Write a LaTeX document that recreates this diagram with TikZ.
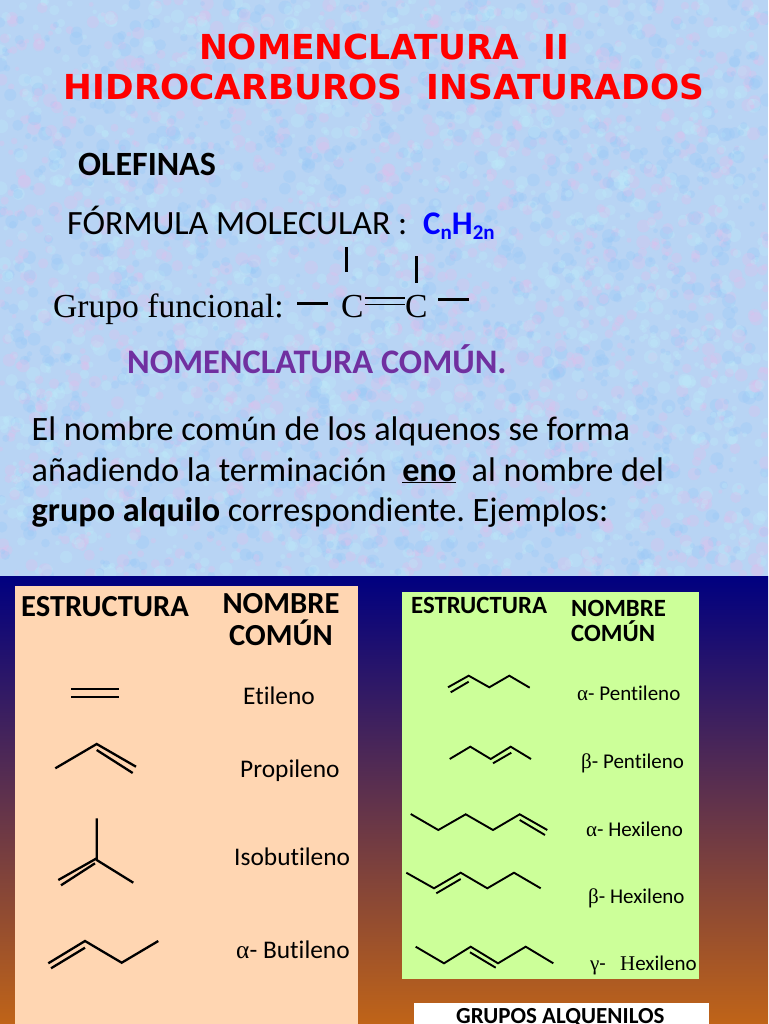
\documentclass[tikz,border=0pt]{standalone}
\usepackage{fontspec}
\setmainfont[Ligatures = NoCommon]{Carlito}
\newfontfamily\titulofont{DejaVu Sans}
\newfontfamily\griegofont{Liberation Serif}
\newcommand{\letra}[1]{\fontsize{#1}{#1}\selectfont}
\definecolor{rojotitulo}{RGB}{255,0,0}
\definecolor{azulformula}{RGB}{0,0,255}
\definecolor{moradotitulo}{RGB}{112,48,160}
\definecolor{fondoazul}{RGB}{184,212,244}
\definecolor{manchaazul}{RGB}{150,200,248}
\definecolor{mancharosa}{RGB}{226,190,236}
\definecolor{manchaclara}{RGB}{190,236,250}
\definecolor{durazno}{RGB}{255,214,178}
\definecolor{verdeclaro}{RGB}{204,255,153}
\tikzset{
  titulo/.style = {text = rojotitulo, font = \titulofont\bfseries\letra{34.4}},
  texto/.style = {anchor = base west, inner sep = 0pt},
  cabecera/.style = {inner sep = 0pt, font = \bfseries\letra{30.6}},
  cabeceraverde/.style = {inner sep = 0pt, font = \bfseries\letra{24.8}},
  nombre/.style = {inner sep = 0pt, anchor = base west, font = \letra{25.4}},
  nombreverde/.style = {inner sep = 0pt, anchor = base west, font = \letra{21}},
  enlace/.style = {black, line width = 2.3pt},
  enlaceverde/.style = {black, line width = 1.9pt},
  raya/.style = {black, line width = 3pt}
}
\begin{document}
\begin{tikzpicture} [x = 1pt, y = -1pt]
\clip (0, 0) rectangle (768, 1024);
\fill[fondoazul] (0, 0) rectangle (768, 576);
\begin{scope}
\clip (0, 0) rectangle (768, 576);
\pgfmathsetseed{27}
\foreach \i in {1, ..., 1400} {
  \fill[manchaazul, opacity = 0.3] ({rnd*768}, {rnd*576}) circle [radius = {2 + rnd*5}];
  \fill[mancharosa, opacity = 0.3] ({rnd*768}, {rnd*576}) circle [radius = {2 + rnd*5}];
  \fill[manchaclara, opacity = 0.3] ({rnd*768}, {rnd*576}) circle [radius = {2 + rnd*5}];
}
\end{scope}
\shade[top color = {rgb,255:red,0;green,0;blue,128}, bottom color = {rgb,255:red,192;green,100;blue,24}] (0, 576) rectangle (768, 1024);
\fill[durazno] (15, 586) rectangle (358, 1024);
\fill[verdeclaro] (402, 592) rectangle (699, 979);
\fill[white] (414, 1003) rectangle (709, 1024);

\node[titulo] (titulo1) at (384, 47){NOMENCLATURA\ \ II};
\node[titulo] (titulo2) at (384, 87){HIDROCARBUROS\ \ INSATURADOS};
\node[texto, font = \bfseries\letra{34}] (olefinas) at (78, 176){OLEFINAS};
\node[texto, font = \letra{34}] (formula) at (67, 235){FÓRMULA MOLECULAR :};
\node[texto, text = azulformula, font = \bfseries\letra{33}] (cnh) at (423, 235){C\raisebox{-5pt}{\letra{21}n}H\raisebox{-5pt}{\letra{21}2n}};
\node[texto, font = \griegofont\letra{33.6}] (grupo) at (53, 317){Grupo funcional:};
\node[texto, font = \griegofont\letra{33.6}] (c1) at (341, 317){C};
\node[texto, font = \griegofont\letra{33.6}] (c2) at (405, 317){C};
\draw[black, line width = 1.5pt] (365, 298) -- (405, 298);
\draw[black, line width = 1.5pt] (365, 304.5) -- (405, 304.5);
\draw[raya] (297, 303) -- (328, 303);
\draw[raya] (438, 299) -- (469, 299);
\draw[raya] (346, 247) -- (346, 272);
\draw[raya] (416.5, 256) -- (416.5, 283);
\node[texto, text = moradotitulo, font = \bfseries\letra{34.4}] (comun) at (127, 373){NOMENCLATURA COMÚN.};
\node[texto, font = \letra{34.2}] (linea1) at (31.5, 440){El nombre común de los alquenos se forma};
\node[texto, font = \letra{34.2}] (linea2) at (31.5, 481){añadiendo la terminación\ \ \underline{\textbf{eno}}\ \ al nombre del};
\node[texto, font = \letra{34.2}\frenchspacing] (linea3) at (31.5, 521){\textbf{grupo alquilo} correspondiente. Ejemplos:};

\node[cabecera, anchor = base west] (estructura1) at (21, 616){ESTRUCTURA};
\node[cabecera] (nombre1) at (281, 604){NOMBRE};
\node[cabecera] (comun1) at (281, 633){COMÚN};
\node[nombre] (etileno) at (243, 704){Etileno};
\node[nombre] (propileno) at (240, 777){Propileno};
\node[nombre] (isobutileno) at (234, 865){Isobutileno};
\node[nombre] (butileno) at (236, 958){{\griegofont α}- Butileno};

\draw[enlace] (71, 689) -- (119, 689);
\draw[enlace] (71, 697) -- (119, 697);
\draw[enlace] (55.3, 768.3) -- (96.7, 744) -- (136, 766.7);
\draw[enlace] (96.7, 750) -- (132.7, 773);
\draw[enlace] (96.7, 818.3) -- (96.7, 860) -- (133.3, 882.7);
\draw[enlace] (96.7, 858.3) -- (58.3, 880);
\draw[enlace] (95, 863.3) -- (61, 885.3);
\draw[enlace] (48.3, 963.3) -- (85, 941) -- (121.7, 962.7) -- (158.3, 941);
\draw[enlace] (51, 968.3) -- (85, 947.7);

\node[cabeceraverde, anchor = base west] (estructura2) at (411, 613){ESTRUCTURA};
\node[cabeceraverde, anchor = base west] (nombre2) at (571, 616){NOMBRE};
\node[cabeceraverde, anchor = base west] (comun2) at (571, 641){COMÚN};
\node[nombreverde] (pentileno1) at (577, 700){{\griegofont α}- Pentileno};
\node[nombreverde] (pentileno2) at (581, 768){{\griegofont β}- Pentileno};
\node[nombreverde] (hexileno1) at (586, 836){{\griegofont α}- Hexileno};
\node[nombreverde] (hexileno2) at (588, 903){{\griegofont β}- Hexileno};
\node[nombreverde] (hexileno3) at (590, 970){{\griegofont γ}-\ \ \ {\griegofont H}exileno};

\draw[enlaceverde] (448, 687.3) -- (468.7, 675.7) -- (489.3, 687.3) -- (509.3, 675.7) -- (529.7, 687.7);
\draw[enlaceverde] (450.7, 692.3) -- (468.7, 681.7);
\draw[enlaceverde] (449.7, 759) -- (470.3, 746.7) -- (490.7, 759) -- (510.7, 746.7) -- (531, 759);
\draw[enlaceverde] (493, 763.3) -- (511.3, 752.7);
\draw[enlaceverde] (410.7, 814) -- (438.3, 830) -- (465.7, 814.3) -- (493, 830) -- (519.7, 814.3) -- (547.3, 830);
\draw[enlaceverde] (519.7, 820) -- (545, 835);
\draw[enlaceverde] (406.3, 872.7) -- (434, 888.3) -- (460.7, 872.7) -- (487.3, 888.3) -- (514, 872.7) -- (540.7, 888.3);
\draw[enlaceverde] (436.3, 893.3) -- (460.7, 879);
\draw[enlaceverde] (415.7, 946.7) -- (444, 963.3) -- (470.7, 946.7) -- (498, 963.3) -- (525.7, 946.7) -- (553.3, 963.3);
\draw[enlaceverde] (470, 952.3) -- (495.7, 967.7);

\node[texto, font = \bfseries\letra{23}] (alquenilos) at (456, 1023){GRUPOS ALQUENILOS};
\end{tikzpicture}
\end{document}
